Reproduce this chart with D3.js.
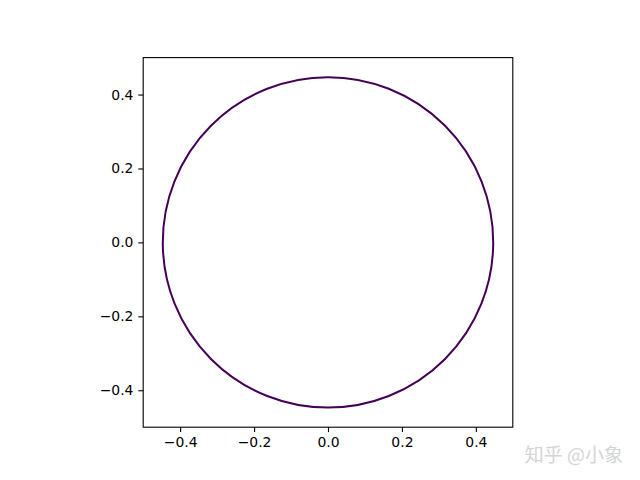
<!DOCTYPE html>
<html>
<head>
<meta charset="utf-8">
<script src="https://cdn.jsdelivr.net/npm/d3@7"></script>
<style>
  body { margin: 0; background: #fff; }
  text { font-family: "DejaVu Sans", sans-serif; }
</style>
</head>
<body>
<svg id="canvas"></svg>
<script>
// contour level: one circle centred at origin
const xTicks = [-0.4, -0.2, 0.0, 0.2, 0.4];
const yTicks = [-0.4, -0.2, 0.0, 0.2, 0.4];
const contourCenters = [[0, 0]];
const contourRadii = [0.447];
const contourColors = ['#440154'];

const w = 640;
const h = 480;
// axes box (square aspect, like matplotlib)
const axTop = 57.6, axBottom = 427.2;
const side = axBottom - axTop;
const axLeft = 328 - side / 2, axRight = 328 + side / 2;

const x = d3.scaleLinear().domain([-0.5, 0.5]).range([axLeft, axRight]);
const y = d3.scaleLinear().domain([-0.5, 0.5]).range([axBottom, axTop]);

const svg = d3.select('#canvas').attr('width', w).attr('height', h);

const fmt = (d) => d3.format('.1f')(d).replace('-', '\u2212');

svg.selectAll('circle.contour')
  .data(contourCenters)
  .enter()
  .append('circle')
  .attr('class', 'contour')
  .attr('cx', (d) => x(d[0]))
  .attr('cy', (d) => y(d[1]))
  .attr('r', (d, i) => x(contourRadii[i]) - x(0))
  .attr('fill', 'none')
  .attr('stroke', (d, i) => contourColors[i])
  .attr('stroke-width', 2);

const xAxis = d3.axisBottom(x).tickValues(xTicks).tickFormat(fmt).tickSize(4.9).tickPadding(4.9);
svg.append('g').attr('transform', 'translate(0,' + axBottom + ')').call(xAxis);

const yAxis = d3.axisLeft(y).tickValues(yTicks).tickFormat(fmt).tickSize(4.9).tickPadding(4.9);
svg.append('g').attr('transform', 'translate(' + axLeft + ',0)').call(yAxis);

svg.selectAll('.domain').remove();
svg.selectAll('.tick line').attr('stroke', '#000').attr('stroke-width', 1.1);
svg.selectAll('.tick text').attr('font-size', 13.9).attr('fill', '#000')
  .style('font-family', '"DejaVu Sans", sans-serif');

svg.append('rect')
  .attr('x', axLeft).attr('y', axTop)
  .attr('width', axRight - axLeft).attr('height', axBottom - axTop)
  .attr('fill', 'none').attr('stroke', '#000').attr('stroke-width', 1.1);

// watermark
svg.append('text')
  .attr('x', 623).attr('y', 462)
  .attr('text-anchor', 'end')
  .attr('font-size', 19)
  .attr('fill', '#d4d4d4')
  .style('font-family', '"Noto Sans CJK SC", sans-serif')
  .text('知乎 @小象');
</script>
</body>
</html>
